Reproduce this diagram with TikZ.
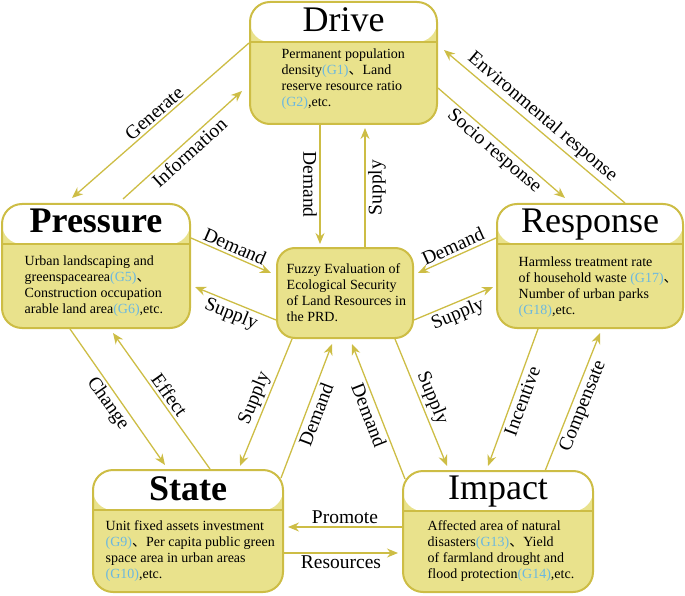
\documentclass[tikz,border=0pt]{standalone}
\usepackage{fontspec}
\setmainfont{Liberation Serif}
\newfontfamily\cjk{Noto Sans CJK SC}
\usetikzlibrary{arrows.meta, calc}
\definecolor{cfill}{HTML}{E9E28C}
\definecolor{cline}{HTML}{CDBD45}
\definecolor{cblue}{HTML}{6BB8E0}
\newcommand{\gref}[1]{\textcolor{cblue}{(#1)}}
\newcommand{\dun}{{\cjk 、}}
\tikzset{
  every picture/.style={line width=1.4pt},
  box/.style={draw=cline, fill=cfill, rounded corners=20pt, inner sep=0pt, line width=2pt,
    path picture={
      \fill[white] (path picture bounding box.north west) rectangle ([yshift=-40pt]path picture bounding box.north east);
      \draw[cline, line width=2pt] ([yshift=-40pt]path picture bounding box.north west) -- ([yshift=-40pt]path picture bounding box.north east);}},
  core/.style={draw=cline, fill=cfill, rounded corners=18pt, inner sep=0pt, line width=2pt},
  arrow/.style={-{Stealth[length=11pt, width=9pt]}, draw=cline, line width=1.3pt},
  title/.style={font=\fontsize{36}{40}\selectfont, anchor=base, inner sep=0pt},
  body/.style={font=\fontsize{14}{16}\selectfont, align=left, anchor=north west, inner sep=0pt},
  lbl/.style={font=\fontsize{19.5}{22}\selectfont, sloped, inner sep=2.5pt},
}

\begin{document}
\begin{tikzpicture}[x=1pt, y=-1pt]
  \useasboundingbox (0,0) rectangle (685,596);
  % boxes
  \node[box, minimum width=187pt, minimum height=122pt] (drive) at (343.5,63) {};
  \node[box, minimum width=188pt, minimum height=124pt] (pressure) at (96,266) {};
  \node[box, minimum width=186pt, minimum height=124pt] (response) at (590,266) {};
  \node[core, minimum width=136pt, minimum height=90pt] (fuzzy) at (345,293) {};
  \node[box, minimum width=190pt, minimum height=122pt] (state) at (188,531) {};
  \node[box, minimum width=190pt, minimum height=121pt] (impact) at (498,531.5) {};
  % titles
  \node[title] (drivetitle) at ([yshift=-31pt]drive.north) {Drive};
  \node[title, font=\fontsize{36}{40}\selectfont\bfseries] (pressuretitle) at ([yshift=-30pt]pressure.north) {Pressure};
  \node[title] (responsetitle) at ([yshift=-30pt]response.north) {Response};
  \node[title, font=\fontsize{36}{40}\selectfont\bfseries] (statetitle) at ([yshift=-31pt]state.north) {State};
  \node[title] (impacttitle) at ([yshift=-29pt]impact.north) {Impact};
  % texts
  \node[body] (drivetext) at (281,48) {Permanent population\\ density\gref{G1}\dun Land\\ reserve resource ratio\\ \gref{G2},etc.};
  \node[body] (pressuretext) at (24,255) {Urban landscaping and\\ greenspacearea\gref{G5}\dun\\ Construction occupation\\ arable land area\gref{G6},etc.};
  \node[body] (responsetext) at (518,256) {Harmless treatment rate\\ of household waste \gref{G17}\dun\\ Number of urban parks\\ \gref{G18},etc.};
  \node[body] (fuzzytext) at (286,263) {Fuzzy Evaluation of\\ Ecological Security\\ of Land Resources in\\ the PRD.};
  \node[body] (statetext) at (105,520) {Unit fixed assets investment\\ \gref{G9}\dun Per capita public green\\ space area in urban areas\\ \gref{G10},etc.};
  \node[body] (impacttext) at (427,520) {Affected area of natural\\ disasters\gref{G13}\dun Yield\\ of farmland drought and\\ flood protection\gref{G14},etc.};
  % outer ring
  \draw[arrow] ([yshift=20pt]drive.west) -- node[lbl, above] {Generate} ([xshift=-24pt,yshift=5pt]pressure.north);
  \draw[arrow] ([xshift=27pt,yshift=4pt]pressure.north) -- node[lbl, below] {Information} ([xshift=-7pt,yshift=-28pt]drive.west);
  \draw[arrow] ([xshift=35pt]response.north) -- node[lbl, above] {Environmental response} ([xshift=6pt,yshift=13pt]drive.east);
  \draw[arrow] ([yshift=-25pt]drive.east) -- node[lbl, below] {Socio response} ([xshift=-25pt,yshift=5pt]response.north);
  \draw[arrow] ([xshift=-26pt]pressure.south) -- node[lbl, below] {Change} ([xshift=-23pt,yshift=4pt]state.north);
  \draw[arrow] ([xshift=22pt]state.north) -- node[lbl, above] {Effect} ([xshift=17pt,yshift=-4pt]pressure.south);
  \draw[arrow] ([xshift=-52pt]response.south) -- node[lbl, below] {Incentive} ([xshift=-10pt,yshift=4pt]impact.north);
  \draw[arrow] ([xshift=47pt,yshift=-1pt]impact.north) -- node[lbl, below] {Compensate} ([xshift=10pt,yshift=-4pt]response.south);
  \draw[arrow] ([yshift=4.5pt]impact.west) -- node[lbl, above] {Promote} ([xshift=4pt,yshift=4pt]state.east);
  \draw[arrow] ([yshift=-22pt]state.east) -- node[lbl, below] {Resources} ([xshift=-4pt,yshift=-21.5pt]impact.west);
  % to and from the centre
  \draw[arrow] ([xshift=-23.5pt]drive.south) -- node[lbl, below] {Demand} ([xshift=-25pt,yshift=3pt]fuzzy.north);
  \draw[arrow] ([xshift=20pt]fuzzy.north) -- node[lbl, below] {Supply} ([xshift=21.5pt,yshift=-3pt]drive.south);
  \draw[arrow] ([yshift=28pt]pressure.east) -- node[lbl, above] {Demand} ([xshift=-5pt,yshift=20pt]fuzzy.west);
  \draw[arrow] ([yshift=-27pt]fuzzy.west) -- node[lbl, below] {Supply} ([xshift=4pt,yshift=-21pt]pressure.east);
  \draw[arrow] ([yshift=28pt]response.west) -- node[lbl, above] {Demand} ([xshift=4pt,yshift=20pt]fuzzy.east);
  \draw[arrow] ([yshift=-27pt]fuzzy.east) -- node[lbl, below] {Supply} ([xshift=-3pt,yshift=-21pt]response.west);
  \draw[arrow] ([xshift=-53pt]fuzzy.south) -- node[lbl, above] {Supply} ([xshift=52pt,yshift=3pt]state.north);
  \draw[arrow] ([xshift=-3pt,yshift=-9pt]state.north east) -- node[lbl, below] {Demand} ([xshift=-13pt,yshift=-5pt]fuzzy.south);
  \draw[arrow] ([xshift=3pt,yshift=-9pt]impact.north west) -- node[lbl, below] {Demand} ([xshift=7pt,yshift=-5pt]fuzzy.south);
  \draw[arrow] ([xshift=50pt]fuzzy.south) -- node[lbl, above] {Supply} ([xshift=-51pt,yshift=4pt]impact.north);
\end{tikzpicture}
\end{document}
